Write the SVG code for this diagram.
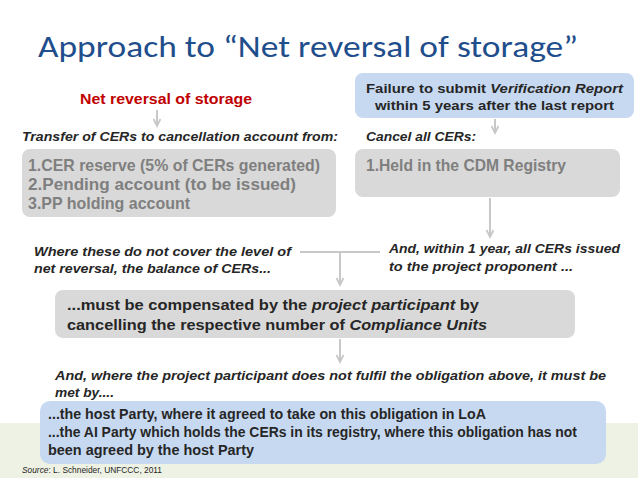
<svg xmlns="http://www.w3.org/2000/svg" width="638" height="478" viewBox="0 0 638 478">
<style>
.t{font-family:"Liberation Sans",Arial,sans-serif;font-weight:bold;fill:#262626}
.i{font-style:italic}
.g{fill:#D9D9D9}
.b{fill:#C6D9F1}
.big{font-size:16.5px;fill:#7F7F7F}
.c{stroke:#C8C8C8;stroke-width:2;fill:none}
</style>
<defs><marker id="a" markerWidth="10" markerHeight="8" refX="8" refY="4" orient="auto" markerUnits="userSpaceOnUse"><path d="M1,0.5 L8,4 L1,7.5" fill="none" stroke="#C8C8C8" stroke-width="1.8"/></marker></defs>
<rect width="638" height="478" fill="#fff"/>
<rect y="423" width="638" height="55" fill="#EEF2E4"/>
<rect x="520" y="458" width="22" height="6" fill="#C9D9A8"/>
<text x="38" y="57" font-family="Calibri,'Liberation Sans',sans-serif" font-size="31" fill="#1F4E8C" textLength="540" lengthAdjust="spacingAndGlyphs">Approach to “Net reversal of storage”</text>
<g id="connectors">
<path class="c" d="M157,110 V126" marker-end="url(#a)"/>
<path class="c" d="M495,119 V133" marker-end="url(#a)"/>
<path class="c" d="M490,198 V237" marker-end="url(#a)"/>
<path class="c" d="M300,252 H380"/>
<path class="c" d="M340,252 V285" marker-end="url(#a)"/>
<path class="c" d="M340,339 V362" marker-end="url(#a)"/>
</g>
<g id="n1"><text class="t" x="80" y="104" font-size="14.5" style="fill:#C00000" textLength="172" lengthAdjust="spacingAndGlyphs">Net reversal of storage</text></g>
<g id="n2"><rect class="b" x="355" y="73" width="279" height="45" rx="8"/>
<text class="t" x="366" y="93" font-size="13.5" textLength="257" lengthAdjust="spacingAndGlyphs">Failure to submit <tspan class="i">Verification Report</tspan></text>
<text class="t" x="375" y="110" font-size="13.5" textLength="239" lengthAdjust="spacingAndGlyphs">within 5 years after the last report</text></g>
<g id="n3"><text class="t i" x="22" y="141" font-size="13.5" textLength="316" lengthAdjust="spacingAndGlyphs">Transfer of CERs to cancellation account from:</text></g>
<g id="n4"><text class="t i" x="366" y="141" font-size="13.5" textLength="110" lengthAdjust="spacingAndGlyphs">Cancel all CERs:</text></g>
<g id="n5"><rect class="g" x="22" y="149" width="314" height="68" rx="8"/>
<text class="t big" x="28" y="171" textLength="292" lengthAdjust="spacingAndGlyphs">1.CER reserve (5% of CERs generated)</text>
<text class="t big" x="28" y="190" textLength="268" lengthAdjust="spacingAndGlyphs">2.Pending account (to be issued)</text>
<text class="t big" x="28" y="209" textLength="162" lengthAdjust="spacingAndGlyphs">3.PP holding account</text></g>
<g id="n6"><rect class="g" x="355" y="149" width="265" height="48" rx="8"/>
<text class="t big" x="366" y="171" textLength="200" lengthAdjust="spacingAndGlyphs">1.Held in the CDM Registry</text></g>
<g id="n7"><text class="t i" x="34" y="256" font-size="13" textLength="257" lengthAdjust="spacingAndGlyphs">Where these do not cover the level of</text>
<text class="t i" x="34" y="273" font-size="13" textLength="237" lengthAdjust="spacingAndGlyphs">net reversal, the balance of CERs...</text></g>
<g id="n8"><text class="t i" x="389" y="253" font-size="13" textLength="231" lengthAdjust="spacingAndGlyphs">And, within 1 year, all CERs issued</text>
<text class="t i" x="389" y="271" font-size="13" textLength="184" lengthAdjust="spacingAndGlyphs">to the project proponent ...</text></g>
<g id="n9"><rect class="g" x="55" y="290" width="520" height="48" rx="8"/>
<text class="t" x="67" y="310" font-size="15.5" textLength="412" lengthAdjust="spacingAndGlyphs">...must be compensated by the <tspan class="i">project participant</tspan> by</text>
<text class="t" x="67" y="330" font-size="15.5" textLength="420" lengthAdjust="spacingAndGlyphs">cancelling the respective number of <tspan class="i">Compliance Units</tspan></text></g>
<g id="n10"><text class="t i" x="55" y="380" font-size="13.5" textLength="551" lengthAdjust="spacingAndGlyphs">And, where the project participant does not fulfil the obligation above, it must be</text>
<text class="t i" x="55" y="397" font-size="13.5" textLength="59" lengthAdjust="spacingAndGlyphs">met by....</text></g>
<g id="n11"><rect class="b" x="40" y="401" width="566" height="63" rx="10"/>
<text class="t" x="48" y="419" font-size="14" textLength="438" lengthAdjust="spacingAndGlyphs">...the host Party, where it agreed to take on this obligation in LoA</text>
<text class="t" x="48" y="437" font-size="14" textLength="529" lengthAdjust="spacingAndGlyphs">...the AI Party which holds the CERs in its registry, where this obligation has not</text>
<text class="t" x="48" y="455" font-size="14" textLength="206" lengthAdjust="spacingAndGlyphs">been agreed by the host Party</text></g>
<text x="22" y="473" font-family="'Liberation Sans',sans-serif" font-size="9" fill="#262626" textLength="140" lengthAdjust="spacingAndGlyphs"><tspan font-style="italic">Source</tspan>: L. Schneider, UNFCCC, 2011</text>
</svg>
